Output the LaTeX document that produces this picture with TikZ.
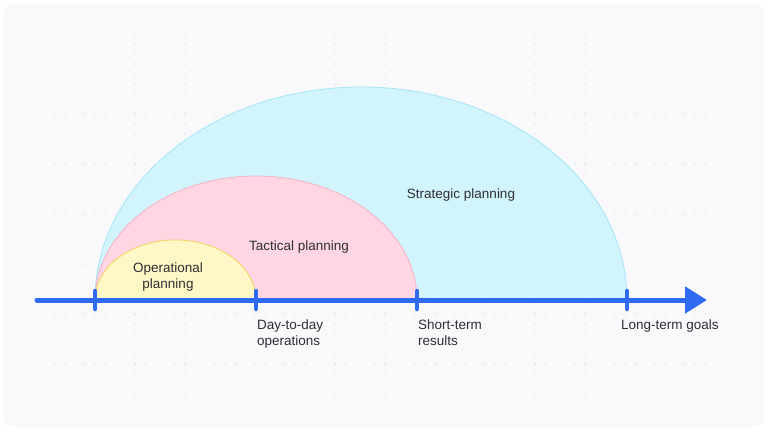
\documentclass[tikz,border=0pt]{standalone}
\usepackage{fontspec}
\setmainfont{Liberation Sans}
\usetikzlibrary{arrows.meta,calc,positioning}
\definecolor{axisblue}{HTML}{2F6BF2}
\definecolor{ink}{HTML}{2E2E33}
\definecolor{panel}{HTML}{F9F9FC}
\definecolor{dotgray}{HTML}{DEDEE6}
\definecolor{cyanfill}{HTML}{D1F4FD}
\definecolor{cyanline}{HTML}{A6E6F6}
\definecolor{pinkfill}{HTML}{FFD6E1}
\definecolor{pinkline}{HTML}{F7B3C5}
\definecolor{yelfill}{HTML}{FFF8C6}
\definecolor{yelline}{HTML}{F3D35E}

\begin{document}
\begin{tikzpicture}[x=1pt, y=-1pt,
                    txt/.style     ={font=\fontsize{13.5}{16}\selectfont, text=ink, inner sep=0, align=center},
                    lbl/.style     ={txt, align=left, anchor=north west},
                    axtick/.style  ={draw=axisblue, line width=4.5pt, line cap=round},
                    axisline/.style={draw=axisblue, line width=5pt, line cap=round, -{Triangle[length=22pt,width=26pt]}},
                    dots/.style    ={draw=dotgray, line width=1.5pt, line cap=round, dash pattern=on 0pt off 10pt},
                    strat/.style   ={fill=cyanfill, draw=cyanline, line width=0.8pt},
                    tact/.style    ={fill=pinkfill, draw=pinkline, line width=0.8pt},
                    oper/.style    ={fill=yelfill,  draw=yelline,  line width=0.8pt}]

      \useasboundingbox (0,0) rectangle (768,431);
      \fill[white] (0,0) rectangle (768,431);
      \fill[panel, rounded corners=10pt] (3,4) rectangle (764,427);
      \foreach \gx in {85,135,...,685}
        \path[dots] (\gx,34) -- (\gx,396);
      \foreach \gy in {64,114,...,364}
        \path[dots] (45,\gy) -- (725,\gy);

      \coordinate (start) at(37,300);
      \coordinate (t0)    at(95,300);
      \coordinate (t1)    at(256,300);
      \coordinate (t2)    at(417,300);
      \coordinate (t3)    at(627,300);
      \coordinate (end)   at(707,300);
      \coordinate (toff)  at(0,9);

      \path[strat] (t0) arc[start angle=180, end angle=360, x radius=266,  y radius=213] -- cycle;
      \path[tact]  (t0) arc[start angle=180, end angle=360, x radius=161,  y radius=124] -- cycle;
      \path[oper]  (t0) arc[start angle=180, end angle=360, x radius=80.5, y radius=60]  -- cycle;

      \path[axisline] (start) -- (end);
      \foreach \t in {t0,t1,t2,t3}
        \path[axtick] ($(\t)-(toff)$) -- ($(\t)+(toff)$);

      \node[txt] at(168,277) (operlbl)  {Operational\\planning};
      \node[txt] at(299,247) (tactlbl)  {Tactical planning};
      \node[txt] at(461,195) (stratlbl) {Strategic planning};

      \node[lbl] at($(t1)+(1,20)$)  (daylbl)   {Day-to-day\\operations};
      \node[lbl] at($(t2)+(1,20)$)  (shortlbl) {Short-term\\results};
      \node[lbl] at($(t3)+(-6,20)$) (longlbl)  {Long-term goals};
    \end{tikzpicture}
\end{document}
